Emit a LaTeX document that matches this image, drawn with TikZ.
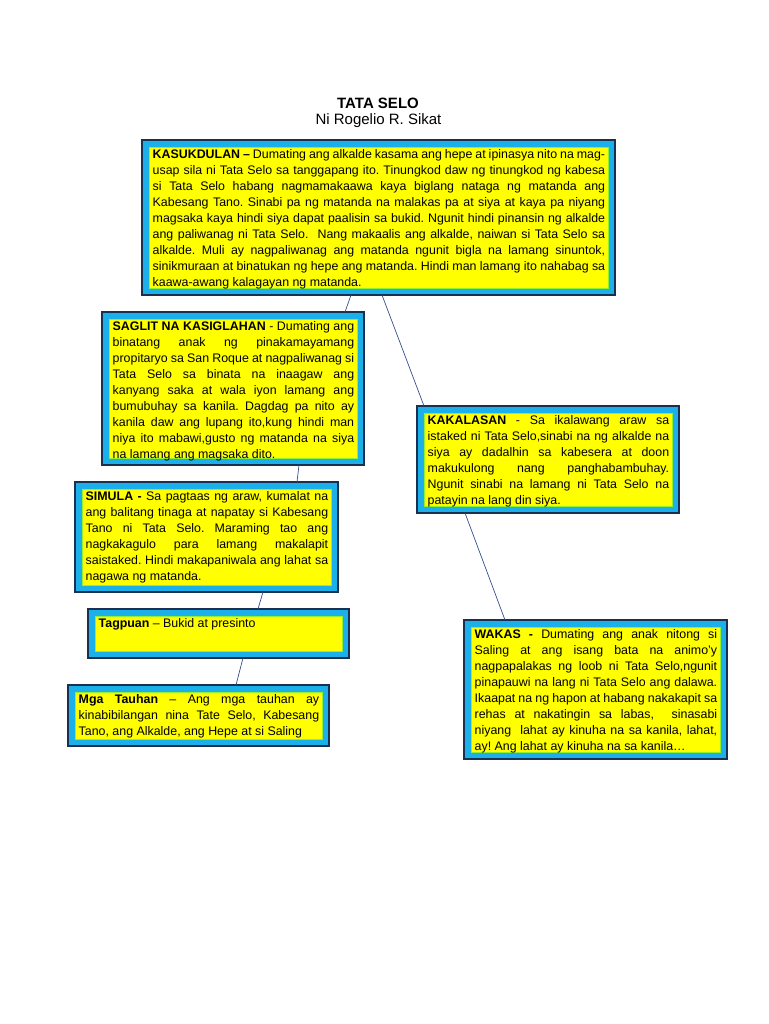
\documentclass[tikz,border=0pt]{standalone}
\usepackage{fontspec}
\setmainfont{Liberation Sans}
\usetikzlibrary{calc}
\definecolor{boxblue}{HTML}{1CB0EA}
\definecolor{boxedge}{HTML}{1A3050}
\definecolor{boxyellow}{HTML}{FFFF00}
\definecolor{lineblue}{HTML}{34508C}
\tolerance=10000
\hyphenpenalty=10000
\exhyphenpenalty=10000
\frenchspacing
\tikzset{
  outerbox/.style={draw=boxedge, line width=1.2pt, fill=boxblue, inner sep=0pt, outer sep=0pt},
  innerbox/.style={fill=boxyellow, draw=boxyellow!70!green!80!boxblue, line width=0.3pt, inner sep=0pt},
  boxtext/.style={anchor=north west, inner sep=0pt, align=justify, font=\fontsize{12.4}{16}\selectfont\frenchspacing},
  conn/.style={draw=lineblue, line width=0.7pt},
  titletext/.style={font=\fontsize{15}{18}\selectfont, inner sep=0pt}
}
\newcommand\storybox[6]{%
  \pgfmathsetmacro\sbw{#4-#2}%
  \pgfmathsetmacro\sbh{#5-#3}%
  \pgfmathsetmacro\sbiw{#4-#2-14}%
  \pgfmathsetmacro\sbih{#5-#3-14}%
  \pgfmathsetmacro\sbtw{#4-#2-20.5}%
  \node[outerbox, minimum width=\sbw pt, minimum height=\sbh pt] (#1) at ({(#2+#4)/2},{(#3+#5)/2}) {};
  \node[innerbox, minimum width=\sbiw pt, minimum height=\sbih pt] (#1in) at (#1.center) {};
  \node[boxtext, text width=\sbtw pt] (#1txt) at ([shift={(10.5,9.5)}]#1.north west) {#6};
}
\begin{document}
\begin{tikzpicture}[x=1pt, y=-1pt]
\useasboundingbox[fill=white] (0,0) rectangle (768,1024);
\node[titletext] (title) at (378,103) {\bfseries TATA SELO};
\node[titletext] (subtitle) at (378.5,121) {Ni Rogelio R. Sikat};

\storybox{kas}{142}{140}{615}{295}{\textbf{KASUKDULAN –} Dumating ang alkalde kasama ang hepe at ipinasya nito na mag-\linebreak
usap sila ni Tata Selo sa tanggapang ito. Tinungkod daw ng tinungkod ng kabesa\linebreak
si Tata Selo habang nagmamakaawa kaya biglang nataga ng matanda ang\linebreak
Kabesang Tano. Sinabi pa ng matanda na malakas pa at siya at kaya pa niyang\linebreak
magsaka kaya hindi siya dapat paalisin sa bukid. Ngunit hindi pinansin ng alkalde\linebreak
ang paliwanag ni Tata Selo.\ \ Nang makaalis ang alkalde, naiwan si Tata Selo sa\linebreak
alkalde. Muli ay nagpaliwanag ang matanda ngunit bigla na lamang sinuntok,\linebreak
sinikmuraan at binatukan ng hepe ang matanda. Hindi man lamang ito nahabag sa\linebreak
kaawa-awang kalagayan ng matanda.}

\storybox{sag}{102}{312}{364}{465}{\textbf{SAGLIT NA KASIGLAHAN} - Dumating ang\linebreak
binatang anak ng pinakamayamang\linebreak
propitaryo sa San Roque at nagpaliwanag si\linebreak
Tata Selo sa binata na inaagaw ang\linebreak
kanyang saka at wala iyon lamang ang\linebreak
bumubuhay sa kanila. Dagdag pa nito ay\linebreak
kanila daw ang lupang ito,kung hindi man\linebreak
niya ito mabawi,gusto ng matanda na siya\linebreak
na lamang ang magsaka dito.}

\storybox{sim}{75}{482}{338}{592}{\textbf{SIMULA -} Sa pagtaas ng araw, kumalat na\linebreak
ang balitang tinaga at napatay si Kabesang\linebreak
Tano ni Tata Selo. Maraming tao ang\linebreak
nagkakagulo para lamang makalapit\linebreak
saistaked. Hindi makapaniwala ang lahat sa\linebreak
nagawa ng matanda.}

\storybox{kak}{417}{406}{679}{513}{\textbf{KAKALASAN} - Sa ikalawang araw sa\linebreak
istaked ni Tata Selo,sinabi na ng alkalde na\linebreak
siya ay dadalhin sa kabesera at doon\linebreak
makukulong nang panghabambuhay.\linebreak
Ngunit sinabi na lamang ni Tata Selo na\linebreak
patayin na lang din siya.}

\storybox{tag}{88}{609}{349}{658}{\textbf{Tagpuan} – Bukid at presinto}

\storybox{tau}{68}{685}{329}{746}{\textbf{Mga Tauhan} – Ang mga tauhan ay\linebreak
kinabibilangan nina Tate Selo, Kabesang\linebreak
Tano, ang Alkalde, ang Hepe at si Saling}

\storybox{wak}{464}{620}{727}{759}{\textbf{WAKAS -} Dumating ang anak nitong si\linebreak
Saling at ang isang bata na animo’y\linebreak
nagpapalakas ng loob ni Tata Selo,ngunit\linebreak
pinapauwi na lang ni Tata Selo ang dalawa.\linebreak
Ikaapat na ng hapon at habang nakakapit sa\linebreak
rehas at nakatingin sa labas,\ \ sinasabi\linebreak
niyang\ \ lahat ay kinuha na sa kanila, lahat,\linebreak
ay! Ang lahat ay kinuha na sa kanila…}

\draw[conn] ($(kas.south west)+(209,0)$) -- ($(sag.north west)+(243,0)$);
\draw[conn] ($(kas.south west)+(240,0)$) -- ($(kak.north west)+(7,0)$);
\draw[conn] ($(sag.south west)+(197,0)$) -- ($(sim.north west)+(222,0)$);
\draw[conn] ($(sim.south west)+(188,0)$) -- ($(tag.north west)+(170,0)$);
\draw[conn] ($(tag.south west)+(155,0)$) -- ($(tau.north west)+(168,0)$);
\draw[conn] ($(kak.south west)+(48,0)$) -- ($(wak.north west)+(41,0)$);
\end{tikzpicture}
\end{document}
